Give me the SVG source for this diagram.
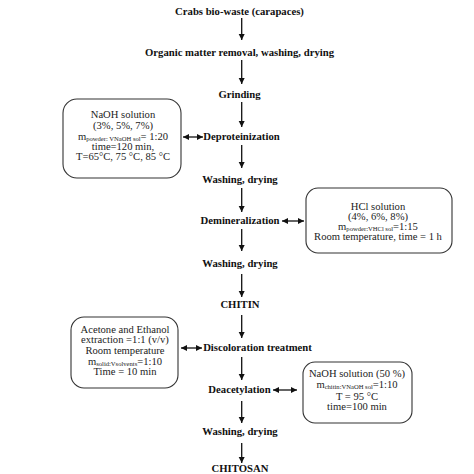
<svg xmlns="http://www.w3.org/2000/svg" width="474" height="474" viewBox="0 0 474 474">
<style>
.step{font-family:"Liberation Serif","Times New Roman",serif;font-weight:bold;font-size:10.7px;fill:#111;text-anchor:middle}
.cond{font-family:"Liberation Serif","Times New Roman",serif;font-size:10.6px;fill:#222;text-anchor:middle}
.sub{font-size:6.6px}
.box{fill:#fff;stroke:#333;stroke-width:1.1}
.ln{stroke:#111;stroke-width:1.3;fill:none}
</style>
<defs>
<marker id="ah" viewBox="0 0 10 10" refX="10" refY="5" markerWidth="6" markerHeight="7" markerUnits="userSpaceOnUse" orient="auto-start-reverse">
<path d="M0,0 L10,5 L0,10 Z" fill="#111"/>
</marker>
</defs>
<rect width="474" height="474" fill="#fff"/>

<g id="connectors">
<line class="ln" x1="241.7" y1="18" x2="241.7" y2="40" marker-end="url(#ah)"/>
<line class="ln" x1="241.7" y1="60" x2="241.7" y2="84" marker-end="url(#ah)"/>
<line class="ln" x1="241.7" y1="102" x2="241.7" y2="127" marker-end="url(#ah)"/>
<line class="ln" x1="241.7" y1="145" x2="241.7" y2="168" marker-end="url(#ah)"/>
<line class="ln" x1="241.7" y1="188" x2="241.7" y2="212" marker-end="url(#ah)"/>
<line class="ln" x1="241.7" y1="229" x2="241.7" y2="251" marker-end="url(#ah)"/>
<line class="ln" x1="241.7" y1="274" x2="241.7" y2="297" marker-end="url(#ah)"/>
<line class="ln" x1="241.7" y1="315" x2="241.7" y2="338" marker-end="url(#ah)"/>
<line class="ln" x1="241.7" y1="357" x2="241.7" y2="380" marker-end="url(#ah)"/>
<line class="ln" x1="241.7" y1="401" x2="241.7" y2="423" marker-end="url(#ah)"/>
<line class="ln" x1="241.7" y1="443" x2="241.7" y2="463" marker-end="url(#ah)"/>
<line class="ln" x1="183" y1="137" x2="203" y2="137" marker-start="url(#ah)" marker-end="url(#ah)"/>
<line class="ln" x1="282" y1="221" x2="304" y2="221" marker-start="url(#ah)" marker-end="url(#ah)"/>
<line class="ln" x1="181" y1="348" x2="202" y2="348" marker-start="url(#ah)" marker-end="url(#ah)"/>
<line class="ln" x1="273" y1="390" x2="297" y2="390" marker-start="url(#ah)" marker-end="url(#ah)"/>
</g>

<g id="n-crabs"><text class="step" x="239.5" y="15">Crabs bio-waste (carapaces)</text></g>
<g id="n-organic"><text class="step" x="239.5" y="56">Organic matter removal, washing, drying</text></g>
<g id="n-grinding"><text class="step" x="239.5" y="98">Grinding</text></g>
<g id="n-deprot"><text class="step" x="241.5" y="140">Deproteinization</text></g>
<g id="n-wash1"><text class="step" x="240" y="183">Washing, drying</text></g>
<g id="n-demin"><text class="step" x="240" y="224">Demineralization</text></g>
<g id="n-wash2"><text class="step" x="240" y="267">Washing, drying</text></g>
<g id="n-chitin"><text class="step" x="240" y="308">CHITIN</text></g>
<g id="n-discol"><text class="step" x="257.5" y="351">Discoloration treatment</text></g>
<g id="n-deacet"><text class="step" x="239.5" y="393">Deacetylation</text></g>
<g id="n-wash3"><text class="step" x="240" y="435">Washing, drying</text></g>
<g id="n-chitosan"><text class="step" x="240" y="472">CHITOSAN</text></g>

<g id="box-naoh1">
<rect class="box" x="63" y="99" width="118" height="79" rx="14"/>
<text class="cond" x="123" y="118">NaOH solution</text>
<text class="cond" x="123" y="129">(3%, 5%, 7%)</text>
<text class="cond" x="123" y="140"><tspan>m</tspan><tspan class="sub" dy="1">powder: VNaOH sol</tspan><tspan dy="-1">= 1:20</tspan></text>
<text class="cond" x="123" y="150">time=120 min,</text>
<text class="cond" x="123" y="160">T=65°C, 75 °C, 85 °C</text>
</g>

<g id="box-hcl">
<rect class="box" x="306" y="188" width="146" height="65" rx="12"/>
<text class="cond" x="378" y="210">HCl solution</text>
<text class="cond" x="378" y="220">(4%, 6%, 8%)</text>
<text class="cond" x="378" y="230"><tspan>m</tspan><tspan class="sub" dy="1">powder:VHCl sol</tspan><tspan dy="-1">=1:15</tspan></text>
<text class="cond" x="378" y="240">Room temperature, time = 1 h</text>
</g>

<g id="box-acetone">
<rect class="box" x="71" y="317" width="107" height="71" rx="13"/>
<text class="cond" x="125" y="333">Acetone and Ethanol</text>
<text class="cond" x="125" y="343">extraction =1:1 (v/v)</text>
<text class="cond" x="125" y="354">Room temperature</text>
<text class="cond" x="125" y="365"><tspan>m</tspan><tspan class="sub" dy="1">solid:Vsolvents</tspan><tspan dy="-1">=1:10</tspan></text>
<text class="cond" x="125" y="375">Time = 10 min</text>
</g>

<g id="box-naoh2">
<rect class="box" x="303" y="362" width="109" height="61" rx="12"/>
<text class="cond" x="357" y="377">NaOH solution (50 %)</text>
<text class="cond" x="357" y="388"><tspan>m</tspan><tspan class="sub" dy="1">chitin:VNaOH sol</tspan><tspan dy="-1">=1:10</tspan></text>
<text class="cond" x="357" y="400">T = 95 °C</text>
<text class="cond" x="357" y="410">time=100 min</text>
</g>
</svg>
